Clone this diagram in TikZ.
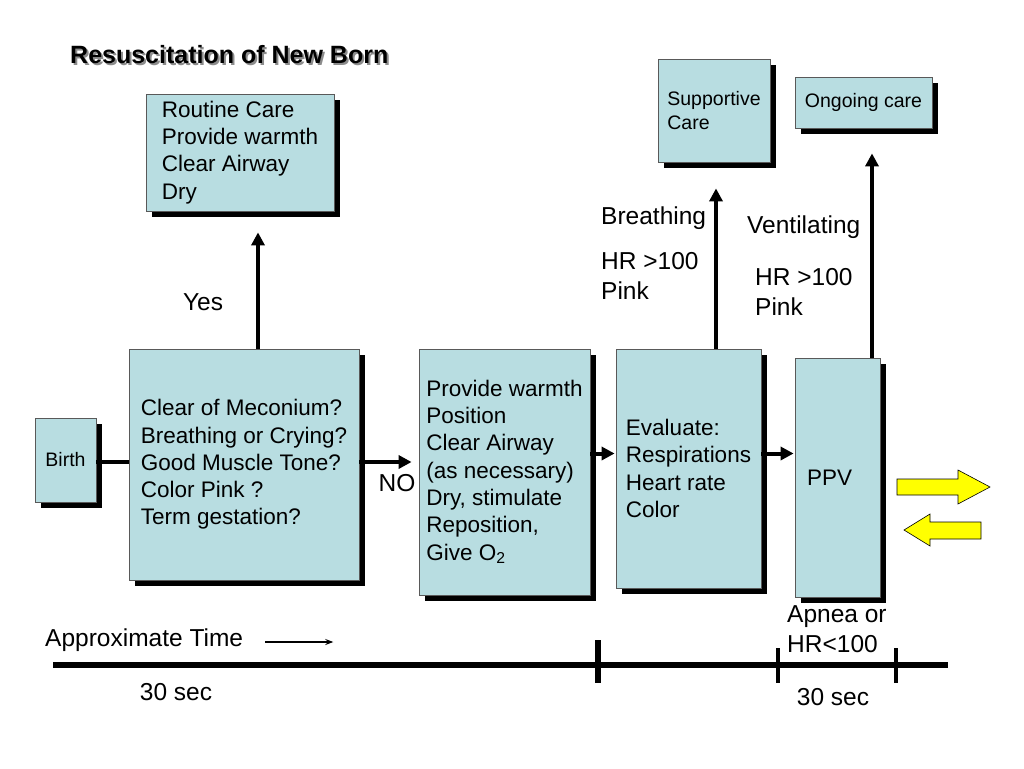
\documentclass[tikz,border=0pt]{standalone}
\usepackage{fontspec}
\setmainfont{Liberation Sans}
\usetikzlibrary{arrows.meta,shadows}
\definecolor{boxfill}{RGB}{184,221,225}
\definecolor{arrowyellow}{RGB}{255,255,0}
\newcommand\bxfont{\fontsize{22.5}{27.3}\selectfont}
\newcommand\lbfont{\fontsize{24.5}{30}\selectfont}
\newcommand\smfont{\fontsize{19.5}{24}\selectfont}
\tikzset{
  box/.style={draw=black!65, line width=0.8pt, fill=boxfill,
    general shadow={fill=black, shadow xshift=6pt, shadow yshift=-6pt},
    inner ysep=0pt, inner xsep=4pt, align=left, font=\bxfont},
  arr/.style={line width=4pt, -{Triangle[length=13pt,width=13pt]}},
  plain/.style={line width=4pt},
  lbl/.style={font=\lbfont, inner sep=0pt, align=left},
  yarrow/.style={fill=arrowyellow, draw=black, line width=0.6pt, line join=miter}
}
\begin{document}
\begin{tikzpicture}[x=1pt,y=-1pt]
\useasboundingbox (0,0) rectangle (1024,768);

% title with shadow
\node[font=\fontsize{25}{30}\selectfont\bfseries, text=black!45, anchor=west, inner sep=0pt] (titleshadow) at (72,57) {Resuscitation of New Born};
\node[font=\fontsize{25}{30}\selectfont\bfseries, anchor=west, inner sep=0pt] (title) at (70,55) {Resuscitation of New Born};

% boxes
\node[box, minimum width=188pt, minimum height=117pt] (routine) at (240,152.5)
  {Routine Care\\Provide warmth\\Clear Airway\\Dry};
\node[box, align=center, font=\smfont, minimum width=61pt, minimum height=84pt] (birth) at (65.5,460) {Birth};
\node[box, minimum width=230pt, minimum height=231pt] (q) at (244,464.5)
  {Clear of Meconium?\\Breathing or Crying?\\Good Muscle Tone?\\Color Pink ?\\Term gestation?};
\node[box, minimum width=171pt, minimum height=246pt] (prov) at (504.5,472)
  {Provide warmth\\Position\\Clear Airway\\(as necessary)\\Dry, stimulate\\Reposition,\\Give O\textsubscript{2}};
\node[box, minimum width=145pt, minimum height=239pt] (eval) at (688.5,468.5)
  {Evaluate:\\Respirations\\Heart rate\\Color};
\node[box, inner xsep=12pt, text width=61pt, minimum height=239pt] (ppv) at (837.5,477.5) {PPV};
\node[box, font=\smfont, minimum width=112pt, minimum height=103pt] (supp) at (714,110.5)
  {Supportive\\Care};
\node[box, font=\smfont, align=center, minimum width=137pt, minimum height=51pt] (ong) at (863.5,102.5)
  {Ongoing care};

% connectors
\draw[plain] ([yshift=-2pt]birth.east) -- ([yshift=-2pt]birth.east -| q.west);
\draw[arr, shorten >=21pt] ([xshift=14pt]q.north) -- ([xshift=14pt]q.north |- routine.south);
\draw[arr, shorten >=7pt] ([yshift=2.5pt]q.east) -- ([yshift=2.5pt]q.east -| prov.west);
\draw[arr, shorten >=1pt] ([yshift=11pt]prov.east |- q.east) -- ([yshift=11pt]eval.west |- q.east);
\draw[arr, shorten >=1pt] ([yshift=11pt]eval.east |- q.east) -- ([yshift=11pt]ppv.west |- q.east);
\draw[arr, shorten >=26pt] ([xshift=27.5pt]eval.north) -- ([xshift=27.5pt]eval.north |- supp.south);
\draw[arr, shorten >=25pt] ([xshift=34.5pt]ppv.north) -- ([xshift=34.5pt]ppv.north |- ong.south);

% labels
\node[lbl, anchor=center] (yes) at (203,302) {Yes};
\node[lbl, anchor=center] (no) at (397,483) {NO};
\node[lbl, anchor=west] (breath) at (601,218) {Breathing};
\node[lbl, anchor=west] (hr1) at (601,275.5) {HR >100\\Pink};
\node[lbl, anchor=west] (vent) at (747,227) {Ventilating};
\node[lbl, anchor=west] (hr2) at (755,292) {HR >100\\Pink};
\node[lbl, anchor=west] (apnea) at (787,629.5) {Apnea or\\HR<100};

% timeline
\node[lbl, anchor=west] (appr) at (45,640) {Approximate Time};
\draw[line width=1.2pt, -{Stealth[length=8pt,width=6pt]}] ([xshift=22pt,yshift=-2pt]appr.east) -- ++(68,0);
\draw[line width=6pt] (53,665) -- (948,665);
\draw[line width=6pt] (598,640) -- (598,683);
\draw[line width=4pt] (778,648) -- (778,683);
\draw[line width=4pt] (896,648) -- (896,683);
\node[lbl, anchor=center] (s1) at (176,692) {30 sec};
\node[lbl, anchor=center] (s2) at (833,697) {30 sec};

% yellow arrows
\draw[yarrow] (897,479) -- (958,479) -- (958,470) -- (990,487) -- (958,504) -- (958,495) -- (897,495) -- cycle;
\draw[yarrow] (904,530) -- (930,514) -- (930,522) -- (981,522) -- (981,539) -- (930,539) -- (930,546) -- cycle;
\end{tikzpicture}
\end{document}
